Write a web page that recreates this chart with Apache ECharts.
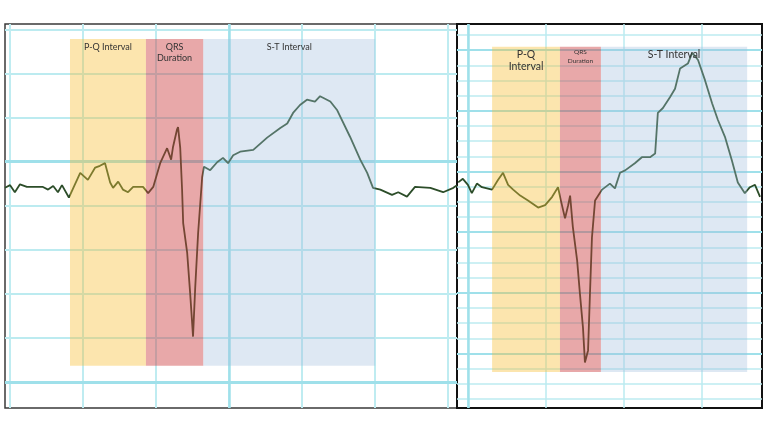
<!DOCTYPE html>
<html>
<head>
<meta charset="utf-8">
<script src="https://cdn.jsdelivr.net/npm/echarts@6/dist/echarts.min.js"></script>
<style>
  html, body { margin: 0; padding: 0; background: #fff; }
  #ecg_chart { width: 768px; height: 433px; }
</style>
</head>
<body>
<div id="ecg_chart"></div>
<script>
// left trace: time (ms) / amplitude (mV)
const leftTime = [0, 14, 27, 41, 60, 104, 118, 132, 145, 156, 175, 206, 227, 247, 260, 274, 288, 296, 310, 323,
  337, 351, 378, 392, 406, 425, 444, 455, 460, 471, 474, 480, 485, 488, 499, 507, 512, 515, 521, 529,
  540, 545, 562, 581, 597, 611, 625, 644, 680, 718, 754, 773, 789, 808, 827, 849, 863, 891, 910, 945,
  973, 992, 1008, 1028, 1060, 1077, 1101, 1123, 1165, 1200, 1228, 1238]
const leftMv = [-0.01, 0.02, -0.06, 0.03, 0, 0, -0.03, 0.01, -0.06, 0.02, -0.12, 0.16, 0.08, 0.22, 0.24, 0.27, 0.05, -0.01, 0.06, -0.03,
  -0.06, 0, 0, -0.07, 0, 0.27, 0.44, 0.31, 0.45, 0.65, 0.68, 0.44, -0.03, -0.41, -0.75, -1.20, -1.51, -1.70, -1.14, -0.52,
  0.11, 0.23, 0.19, 0.28, 0.33, 0.27, 0.36, 0.40, 0.42, 0.56, 0.67, 0.72, 0.84, 0.93, 0.99, 0.97, 1.03, 0.97, 0.87, 0.57,
  0.31, 0.16, -0.01, -0.03, -0.09, -0.06, -0.11, 0, -0.01, -0.06, -0.01, 0.02]

// right trace
const rightTime = [3, 15, 28, 38, 51, 64, 77, 90, 105, 118, 131, 144, 162, 182, 208, 226, 244, 259, 267, 277,
  285, 290, 297, 308, 315, 323, 328, 336, 341, 346, 354, 372, 392, 405, 418, 431, 456, 474, 495, 508,
  515, 528, 546, 559, 572, 592, 603, 618, 636, 654, 669, 687, 705, 720, 738, 751, 764, 777]
const rightMv = [0.04, 0.07, 0.02, -0.05, 0.03, 0, -0.01, -0.02, 0.06, 0.12, 0.02, -0.02, -0.07, -0.11, -0.17, -0.15, -0.08, 0, -0.12, -0.26,
  -0.15, -0.07, -0.33, -0.61, -0.88, -1.17, -1.46, -1.36, -0.88, -0.42, -0.11, -0.02, 0.03, -0.01, 0.12, 0.14, 0.20, 0.25, 0.25, 0.28,
  0.62, 0.66, 0.75, 0.82, 0.99, 1.03, 1.12, 1.06, 0.89, 0.70, 0.56, 0.42, 0.22, 0.04, -0.05, 0, 0.02, -0.08]

// phases (start/end in ms) and the band height (mV)
const phaseNames = ['P-Q Interval', 'QRS\nDuration', 'S-T Interval']
const phaseNamesRight = ['P-Q\nInterval', 'QRS\nDuration', 'S-T Interval']
const leftPhaseEdges = [178, 386, 543, 1014]
const rightPhaseEdges = [90, 264, 369, 744]
const leftBand = [-2.03, 1.68]
const rightBand = [-1.54, 1.17]

// thick lines of the grid paper (in paper squares)
const leftMajorRows = [0, 5]
const leftMajorCols = [3]
const rightMajorRows = [3, 7, 11, 15, 19, 23]
const rightMajorCols = [0]

const phaseColors = ['rgba(247,190,53,0.4)', 'rgba(204,62,64,0.45)', 'rgba(161,189,220,0.35)']

function pairs (xs, ys) {
  return xs.map((x, i) => [x, ys[i]])
}

function bands (edges, band, names, labelStyles) {
  return names.map((name, i) => [
    {
      name: name,
      xAxis: edges[i],
      yAxis: band[1],
      itemStyle: { color: phaseColors[i] },
      label: labelStyles[i]
    },
    { xAxis: edges[i + 1], yAxis: band[0] }
  ])
}

function majorLines (key, values, width) {
  return {
    silent: true,
    z: 1,
    symbol: 'none',
    label: { show: false },
    emphasis: { disabled: true },
    lineStyle: { type: 'solid', color: '#9fe0ea', width: width, opacity: 1 },
    data: values.map(v => ({ [key]: v }))
  }
}

const dom = document.getElementById('ecg_chart')
const myChart = echarts.init(dom)

const paperLine = (w, c) => ({
  show: true,
  axisLine: { show: false },
  axisTick: { show: false },
  axisLabel: { show: false },
  splitLine: { show: true, lineStyle: { color: c, width: w } }
})

const labelFont = 'Lato, "Open Sans", sans-serif'
const leftLabels = [
  { position: 'insideTop', distance: 3, fontSize: 9, lineHeight: 11, color: '#333', fontFamily: labelFont },
  { position: 'insideTop', distance: 3, fontSize: 9, lineHeight: 11, color: '#333', fontFamily: labelFont },
  { position: 'insideTop', distance: 3, fontSize: 9, lineHeight: 11, color: '#333', fontFamily: labelFont }
]
const rightLabels = [
  { position: 'insideTop', distance: 2, fontSize: 10.5, lineHeight: 12, color: '#333', fontFamily: labelFont },
  { position: 'insideTop', distance: 1, fontSize: 6.5, lineHeight: 9, color: '#333', fontFamily: labelFont },
  { position: 'insideTop', distance: 2, fontSize: 10.5, lineHeight: 12, color: '#333', fontFamily: labelFont }
]

const option = {
  animation: false,
  backgroundColor: '#fff',
  grid: [
    // 0 left frame (trace)
    { left: 5, top: 24, width: 452, height: 384, show: true, borderColor: '#3a3a3a', borderWidth: 1.5, backgroundColor: 'transparent' },
    // 1 left paper rows
    { left: 5, top: 29.5, width: 452, height: 352.5 },
    // 2 left paper columns
    { left: 10, top: 24, width: 437.5, height: 384 },
    // 3 right frame (trace)
    { left: 457, top: 24, width: 305, height: 384, show: true, borderColor: '#111', borderWidth: 2, backgroundColor: 'transparent' },
    // 4 right paper rows
    { left: 457, top: 35, width: 305, height: 364 },
    // 5 right paper columns
    { left: 468, top: 24, width: 234, height: 384 }
  ],
  xAxis: [
    { gridIndex: 0, type: 'value', min: 0, max: 1238, show: false },
    { gridIndex: 1, type: 'value', min: 0, max: 1, show: false },
    Object.assign({ gridIndex: 2, type: 'value', min: 0, max: 6, interval: 1 }, paperLine(2, '#bfecf1')),
    { gridIndex: 3, type: 'value', min: 0, max: 782, show: false },
    { gridIndex: 4, type: 'value', min: 0, max: 1, show: false },
    Object.assign({ gridIndex: 5, type: 'value', min: 0, max: 3, interval: 1 }, paperLine(1.5, '#bbebf0'))
  ],
  yAxis: [
    { gridIndex: 0, type: 'value', min: -2.51, max: 1.85, show: false },
    Object.assign({ gridIndex: 1, type: 'value', min: 0, max: 8, interval: 1 }, paperLine(2, '#bcebf0')),
    { gridIndex: 2, type: 'value', min: 0, max: 1, show: false },
    { gridIndex: 3, type: 'value', min: -1.84, max: 1.36, show: false },
    Object.assign({ gridIndex: 4, type: 'value', min: 0, max: 24, interval: 1 }, paperLine(1.5, '#bcebf0')),
    { gridIndex: 5, type: 'value', min: 0, max: 1, show: false }
  ],
  series: [
    // heavier lines of the grid paper
    { type: 'line', xAxisIndex: 1, yAxisIndex: 1, data: [], z: 1, markLine: majorLines('yAxis', leftMajorRows, 3) },
    { type: 'line', xAxisIndex: 2, yAxisIndex: 2, data: [], z: 1, markLine: majorLines('xAxis', leftMajorCols, 2.5) },
    { type: 'line', xAxisIndex: 4, yAxisIndex: 4, data: [], z: 1, markLine: majorLines('yAxis', rightMajorRows, 2.2) },
    { type: 'line', xAxisIndex: 5, yAxisIndex: 5, data: [], z: 1, markLine: majorLines('xAxis', rightMajorCols, 2.5) },
    // traces
    {
      type: 'line',
      xAxisIndex: 0,
      yAxisIndex: 0,
      data: pairs(leftTime, leftMv),
      showSymbol: false,
      silent: true,
      z: 3,
      lineStyle: { color: '#2c4d29', width: 1.8 }
    },
    {
      type: 'line',
      xAxisIndex: 3,
      yAxisIndex: 3,
      data: pairs(rightTime, rightMv),
      showSymbol: false,
      silent: true,
      z: 3,
      lineStyle: { color: '#2c4d29', width: 1.8 }
    },
    // shaded phases, laid over the traces
    {
      type: 'line',
      xAxisIndex: 0,
      yAxisIndex: 0,
      data: [],
      z: 5,
      markArea: { silent: true, z: 6, data: bands(leftPhaseEdges, leftBand, phaseNames, leftLabels) }
    },
    {
      type: 'line',
      xAxisIndex: 3,
      yAxisIndex: 3,
      data: [],
      z: 5,
      markArea: { silent: true, z: 6, data: bands(rightPhaseEdges, rightBand, phaseNamesRight, rightLabels) }
    }
  ]
}

myChart.setOption(option, true)
window.onresize = function () {
  myChart.resize()
}
</script>
</body>
</html>
